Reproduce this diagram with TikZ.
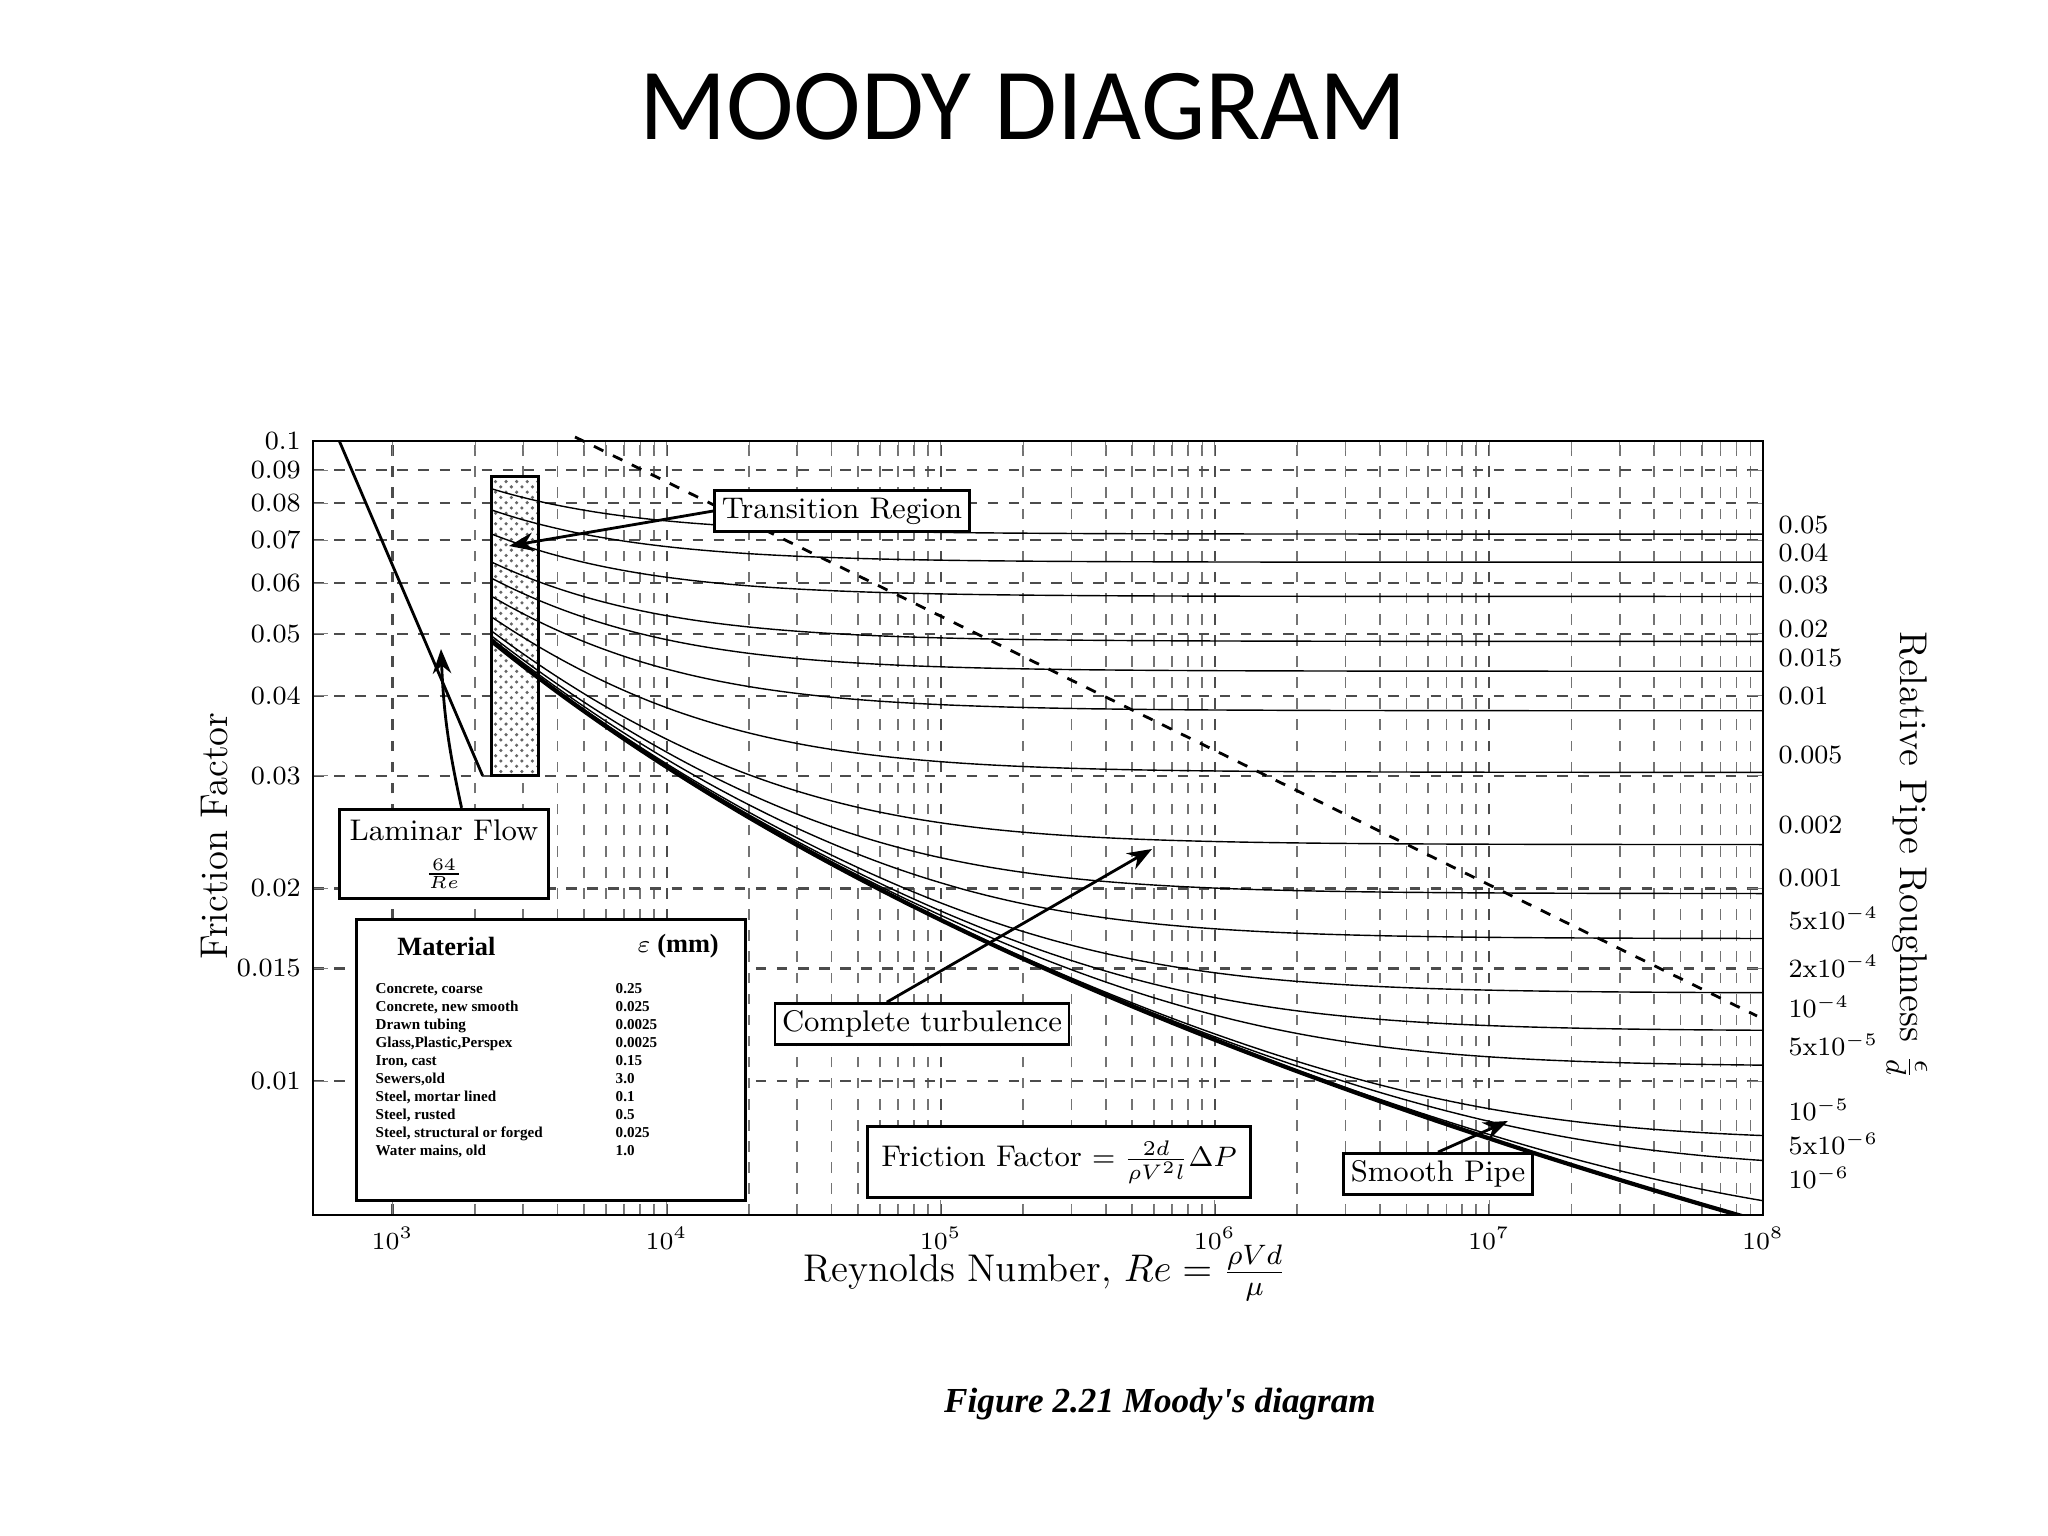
\documentclass[tikz,border=0pt]{standalone}
\usepackage{pgfplots}
\pgfplotsset{compat=1.18}
\usepackage{fontspec}
\newfontfamily\titlefont{Carlito}
\newfontfamily\timesf{Liberation Serif}
\usetikzlibrary{patterns,arrows.meta}
\begin{document}
\begin{tikzpicture}[
  lbl/.style={draw,thick,fill=white,inner sep=2pt,font=\fontsize{8.5}{9}\selectfont},
  arr/.style={-{Stealth[length=7pt]},thick},
  rl/.style={anchor=west,font=\fontsize{7.5}{8}\selectfont,inner sep=0pt}]
\useasboundingbox (0,0) rectangle (20.48,-15.36);
\node (title) at (10.23,-1.07) {\titlefont\fontsize{29}{32}\selectfont MOODY DIAGRAM};
\begin{axis}[at={(3.13cm,-12.15cm)},anchor=south west,scale only axis,
  width=14.5cm,height=7.74cm,xmode=log,ymode=log,
  xmin=513,xmax=1e8,ymin=0.00618,ymax=0.1,
  xtick={1e3,1e4,1e5,1e6,1e7,1e8},
  ytick={0.01,0.015,0.02,0.03,0.04,0.05,0.06,0.07,0.08,0.09,0.1},
  yticklabels={0.01,0.015,0.02,0.03,0.04,0.05,0.06,0.07,0.08,0.09,0.1},
  yminorticks=false,
  tick label style={font=\fontsize{7.5}{8}\selectfont},
  grid=both,major grid style={dashed,black!70,line width=0.6pt},
  minor grid style={dashed,black!55,line width=0.5pt},
  axis line style={thick},clip=true]
\fill[white] (axis cs:2300,0.03) rectangle (axis cs:3400,0.088);
\fill[pattern=crosshatch dots,pattern color=black!60] (axis cs:2300,0.03) rectangle (axis cs:3400,0.088);
\pgfplotsinvokeforeach{0.05,0.04,0.03,0.02,0.015,0.01,0.005,0.002,0.001,5e-4,2e-4,1e-4,5e-5,1e-5,5e-6,1e-6}{
  \addplot[variable=\t,domain=3.3617:8,samples=90,thin,smooth]
   ({10^\t},{0.25/(log10(#1/3.7+5.74/(10^(0.9*\t))))^2});}
\addplot[variable=\t,domain=3.3617:8,samples=90,very thick,smooth]
   ({10^\t},{0.25/(log10(5.74/(10^(0.9*\t))))^2});
\addplot[variable=\t,domain=2.75:3.329,samples=10,thick] ({10^\t},{64/10^\t});
\draw[thick] (axis cs:2300,0.03) rectangle (axis cs:3400,0.088);
\end{axis}
\coordinate (d1) at (5.75,-4.37);
\coordinate (d2) at (17.57,-10.16);
\draw[dashed,thick] (d1) -- (d2);
% right labels
\foreach \v/\y in {0.05/402,0.04/423,0.03/448,0.02/482,0.015/504,0.01/533,0.005/578,0.002/632,0.001/672}
  \node[rl] at (17.78,-\y*1.306/100) {\v};
\foreach \v/\y in {5x10$^{-4}$/703,2x10$^{-4}$/740,10$^{-4}$/771,5x10$^{-5}$/800,10$^{-5}$/850,5x10$^{-6}$/876,10$^{-6}$/902}
  \node[rl] at (17.88,-\y*1.306/100) {\v};
\node[rotate=90,font=\fontsize{11}{12}\selectfont] (fy) at (2.15,-8.36) {Friction Factor};
\node[rotate=-90,font=\fontsize{11}{12}\selectfont] (ry) at (19.07,-8.55) {Relative Pipe Roughness $\frac{\epsilon}{d}$};
\node[font=\fontsize{11}{12}\selectfont] (rx) at (10.45,-12.73) {Reynolds Number, $Re=\frac{\rho V d}{\mu}$};
\node[font=\timesf\bfseries\itshape\fontsize{10}{11}\selectfont] (cap) at (11.6,-14.04) {Figure 2.21 Moody's diagram};
% boxes
\node[lbl] (tr) at (8.42,-5.11) {Transition Region};
\coordinate (tra) at (5.09,-5.46);
\draw[arr] (tr.west) -- (tra);
\node[lbl,align=center,inner sep=3pt] (lam) at (4.44,-8.54) {Laminar Flow\\[2pt]\fontsize{6}{6}\selectfont$\frac{64}{Re}$};
\coordinate (lama) at (4.41,-6.49);
\draw[arr] ([xshift=5pt]lam.north) to[bend left=5] (lama);
\node[lbl] (ct) at (9.22,-10.24) {Complete turbulence};
\coordinate (cta) at (11.52,-8.49);
\draw[arr] ([xshift=-10pt]ct.north) -- (cta);
\node[lbl,inner sep=4pt] (ff) at (10.59,-11.62) {Friction Factor $=\frac{2d}{\rho V^2 l}\Delta P$};
\node[lbl] (sp) at (14.38,-11.74) {Smooth Pipe};
\coordinate (spa) at (15.08,-11.21);
\draw[arr] (sp.north) -- (spa);
% material table
\node[draw,thick,fill=white,minimum width=3.89cm,minimum height=2.81cm,anchor=north west] (mat) at (3.55,-9.18) {};
\node[font=\timesf\bfseries\fontsize{7.5}{8}\selectfont,anchor=west] (mh1) at (3.85,-9.46) {Material};
\node[font=\timesf\bfseries\fontsize{7.5}{8}\selectfont,anchor=west] (mh2) at (6.25,-9.46) {$\varepsilon$ (mm)};
\node[font=\timesf\bfseries\fontsize{4.3}{5.1}\selectfont,anchor=north west,align=left,inner sep=0pt] (mc1) at (3.75,-9.83)
 {Concrete, coarse\\Concrete, new smooth\\Drawn tubing\\Glass,Plastic,Perspex\\Iron, cast\\Sewers,old\\Steel, mortar lined\\Steel, rusted\\Steel, structural or forged\\Water mains, old};
\node[font=\timesf\bfseries\fontsize{4.3}{5.1}\selectfont,anchor=north west,align=left,inner sep=0pt] (mc2) at (6.15,-9.83)
 {0.25\\0.025\\0.0025\\0.0025\\0.15\\3.0\\0.1\\0.5\\0.025\\1.0};
\end{tikzpicture}
\end{document}
